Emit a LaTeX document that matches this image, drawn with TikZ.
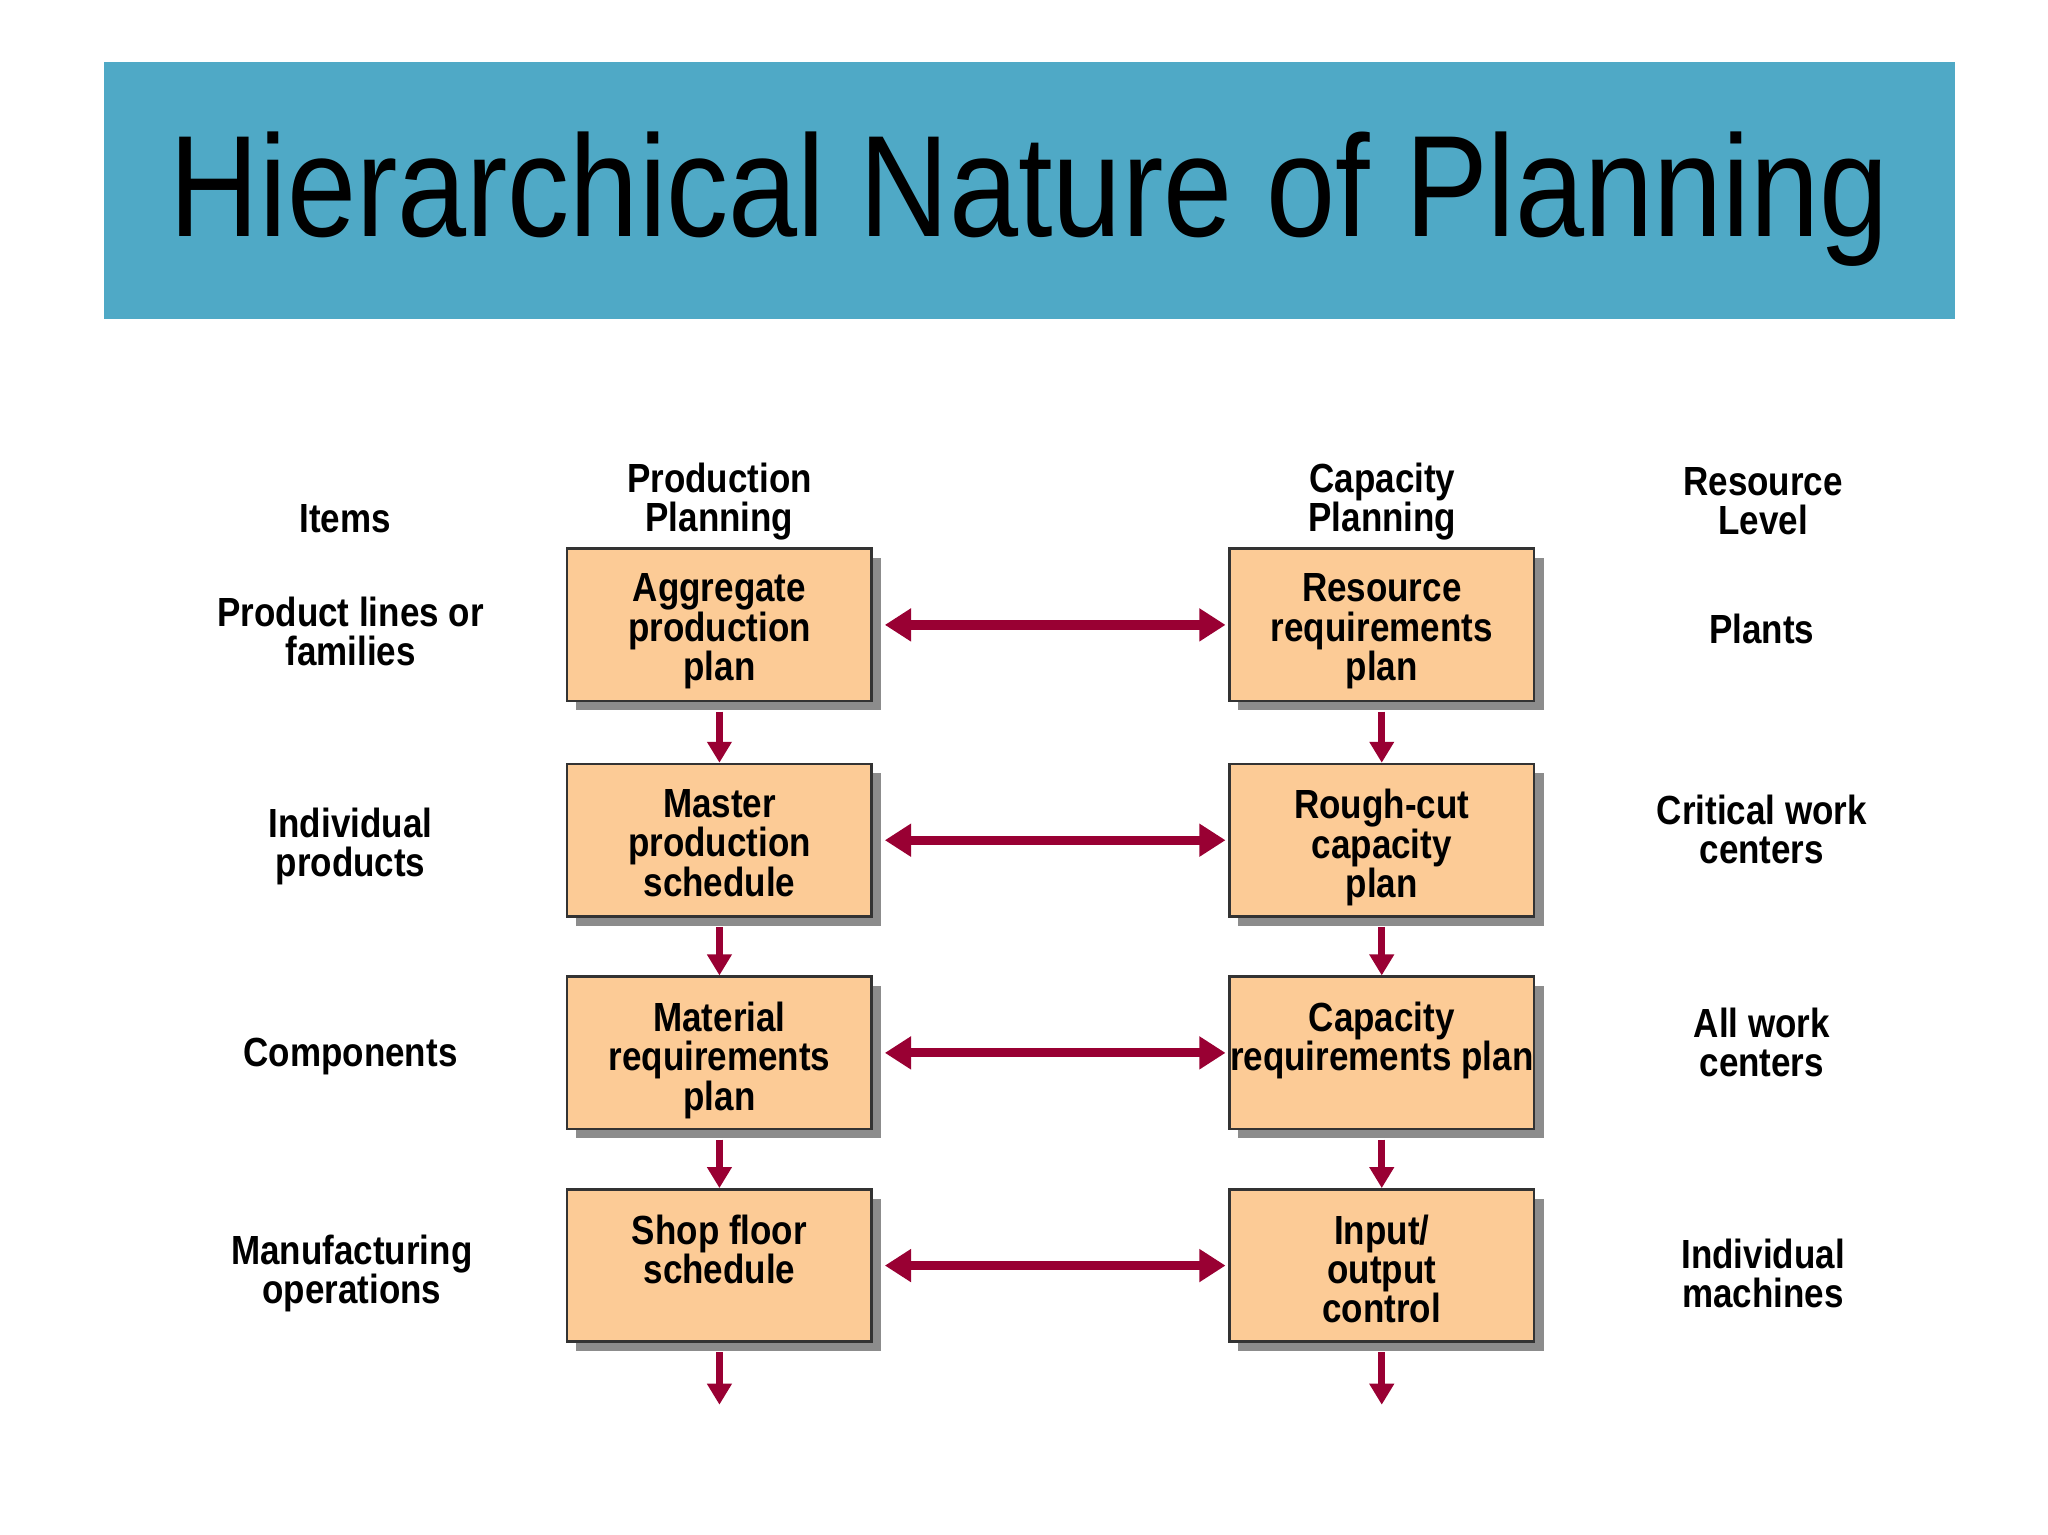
\documentclass[tikz,border=0pt]{standalone}
\usepackage{fontspec}
\setmainfont[FakeStretch=0.86]{Liberation Sans}
\usetikzlibrary{arrows.meta}
\definecolor{titlebg}{HTML}{4FA9C6}
\definecolor{boxfill}{HTML}{FCCB96}
\definecolor{arr}{HTML}{990033}
\tikzset{
  lbl/.style={align=center,font=\bfseries\fontsize{31}{30}\selectfont,inner sep=0pt},
  boxtxt/.style={align=center,font=\bfseries\fontsize{31}{30}\selectfont,inner sep=0pt,anchor=north},
  pbox/.style={draw=black!80,line width=2pt,fill=boxfill,minimum width=232pt,minimum height=116pt,inner sep=0pt},
  shd/.style={fill=black!45},
  harr/.style={draw=arr,line width=7pt,{Triangle[width=24pt,length=20pt]}-{Triangle[width=24pt,length=20pt]}},
  varr/.style={draw=arr,line width=5pt,-{Triangle[width=18pt,length=16pt]}},
}
\begin{document}
\begin{tikzpicture}[x=1pt,y=-1pt]
\useasboundingbox (0,0) rectangle (1560,1169);
\fill[white] (0,0) rectangle (1560,1169);
\fill[titlebg] (79,47) rectangle (1489,243);
\node[inner sep=0pt,anchor=base] (title) at (784,180) {\fontsize{110}{110}\selectfont Hierarchical Nature of Planning};
% headers
\node[lbl] (hprod) at (548,382) {Production\\Planning};
\node[lbl] (hcap) at (1053,382) {Capacity\\Planning};
\node[lbl] (hres) at (1343,382) {Resource\\Level};
\node[lbl] (hitems) at (263,395) {Items};
% left labels
\node[lbl] (l1) at (267,481) {Product lines or\\families};
\node[lbl] (l2) at (267,645) {Individual\\products};
\node[lbl] (l3) at (267,805) {Components};
\node[lbl] (l4) at (268,970) {Manufacturing\\operations};
% right labels
\node[lbl] (r1) at (1342,479) {Plants};
\node[lbl] (r2) at (1342,632) {Critical work\\centers};
\node[lbl] (r3) at (1342,794) {All work\\centers};
\node[lbl] (r4) at (1343,970) {Individual\\machines};
% boxes
\foreach \n/\y in {1/476,2/640,3/802,4/964}{
  \fill[shd] (439,\y-51) rectangle (671,\y+65);
  \fill[shd] (943,\y-51) rectangle (1176,\y+65);
  \node[pbox] (p\n) at (548,\y) {};
  \node[pbox] (c\n) at (1052.5,\y) {};
}
\node[boxtxt] (tp1) at ([yshift=-20pt]p1.north) {Aggregate\\production\\plan};
\node[boxtxt] (tp2) at ([yshift=-20pt]p2.north) {Master\\production\\schedule};
\node[boxtxt] (tp3) at ([yshift=-20pt]p3.north) {Material\\requirements\\plan};
\node[boxtxt] (tp4) at ([yshift=-20pt]p4.north) {Shop floor\\schedule};
\node[boxtxt] (tc1) at ([yshift=-20pt]c1.north) {Resource\\requirements\\plan};
\node[boxtxt] (tc2) at ([yshift=-20pt]c2.north) {Rough-cut\\capacity\\plan};
\node[boxtxt] (tc3) at ([yshift=-20pt]c3.north) {Capacity\\requirements plan};
\node[boxtxt] (tc4) at ([yshift=-20pt]c4.north) {Input/\\output\\control};
% horizontal arrows
\foreach \n in {1,2,3,4}{
  \draw[harr] ([xshift=9pt]p\n.east) -- ([xshift=-2pt]c\n.west);
}
% vertical arrows
\foreach \a/\b in {1/2,2/3,3/4}{
  \draw[varr] ([yshift=-7pt]p\a.south) -- (p\b.north);
  \draw[varr] ([yshift=-7pt]c\a.south) -- (c\b.north);
}
\coordinate (pend) at (548,1070);
\coordinate (cend) at (1052.5,1070);
\draw[varr] ([yshift=-7pt]p4.south) -- (pend);
\draw[varr] ([yshift=-7pt]c4.south) -- (cend);
\end{tikzpicture}
\end{document}
